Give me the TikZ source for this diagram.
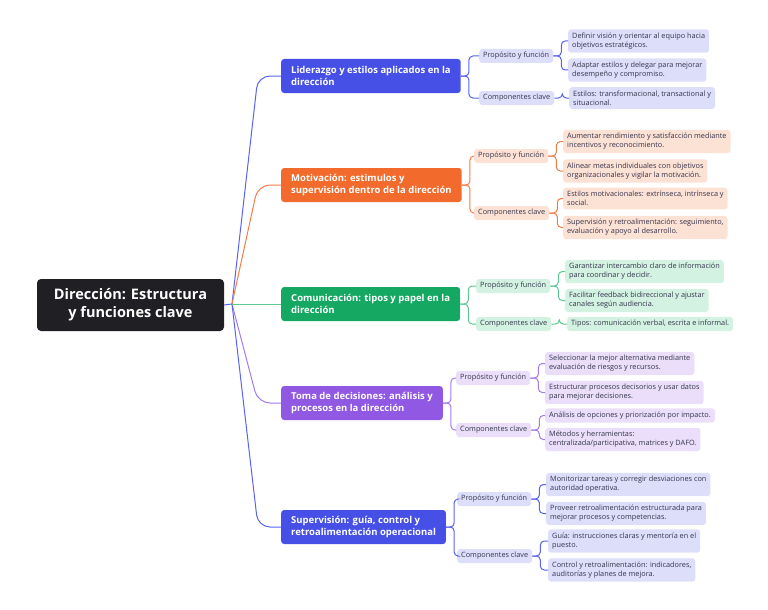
\documentclass[tikz,border=0pt]{standalone}
\usepackage{fontspec}
\setmainfont{Open Sans}
\usetikzlibrary{positioning,calc}
\definecolor{RootDark}{HTML}{1F1F24}
\definecolor{LeafText}{HTML}{33334A}
\definecolor{LidMain}{HTML}{4650E6}
\definecolor{LidLine}{HTML}{5A62F0}
\definecolor{LidSoft}{HTML}{DDDEFA}
\definecolor{MotMain}{HTML}{F26A2C}
\definecolor{MotLine}{HTML}{F47C47}
\definecolor{MotSoft}{HTML}{FCE1D5}
\definecolor{ComMain}{HTML}{15A862}
\definecolor{ComLine}{HTML}{5CC893}
\definecolor{ComSoft}{HTML}{D3F2E2}
\definecolor{TomMain}{HTML}{9058E3}
\definecolor{TomLine}{HTML}{A57AEB}
\definecolor{TomSoft}{HTML}{EADEFA}
\tikzset{every node/.style={inner sep=0pt},
 rootbox/.style={fill=RootDark,text=white,rounded corners=4pt,align=center,
  font=\fontsize{14.5}{18}\selectfont\bfseries,minimum width=187pt,minimum height=52pt},
 branchbox/.style={fill=#1,text=white,rounded corners=3pt,anchor=west,align=left,
  font=\fontsize{9.5}{12.5}\selectfont\bfseries,inner xsep=10pt,minimum height=34pt},
 midbox/.style={fill=#1,text=LeafText,rounded corners=3pt,anchor=west,
  font=\fontsize{7.3}{9}\selectfont,inner xsep=4pt,minimum height=14pt},
 leafbox/.style={fill=#1,text=LeafText,rounded corners=3pt,anchor=west,align=left,
  font=\fontsize{7.3}{9}\selectfont,inner xsep=4pt,inner ysep=3.5pt},
 rootlink/.style={draw=#1,line width=1pt,rounded corners=12pt},
 link/.style={draw=#1,line width=1pt,rounded corners=4pt}}

\begin{document}
\begin{tikzpicture}[x=1pt,y=-1pt]
\useasboundingbox (0,0) rectangle (768,610);
% Root on the left, five branches each split in purpose and key components.
\node[rootbox] (root) at (130.5,305) {Dirección: Estructura\\y funciones clave};
\coordinate (hub) at (232,304);

\node[branchbox=LidMain] (lid) at (281,76) {Liderazgo y estilos aplicados en la\\dirección};
\node[midbox=LidSoft] (lidp) at (479,56) {Propósito y función};
\node[midbox=LidSoft] (lidc) at (479,98) {Componentes clave};
\node[leafbox=LidSoft] (lidpa) at (568,41) {Definir visión y orientar al equipo hacia\\objetivos estratégicos.};
\node[leafbox=LidSoft] (lidpb) at (568,70) {Adaptar estilos y delegar para mejorar\\desempeño y compromiso.};
\node[leafbox=LidSoft] (lidca) at (569,98) {Estilos: transformacional, transactional y\\situacional.};

\node[branchbox=MotMain] (mot) at (281,185) {Motivación: estimulos y\\supervisión dentro de la dirección};
\node[midbox=MotSoft] (motp) at (474,156) {Propósito y función};
\node[midbox=MotSoft] (motc) at (474,213) {Componentes clave};
\node[leafbox=MotSoft] (motpa) at (563,141.5) {Aumentar rendimiento y satisfacción mediante\\incentivos y reconocimiento.};
\node[leafbox=MotSoft] (motpb) at (563,171) {Alinear metas individuales con objetivos\\organizacionales y vigilar la motivación.};
\node[leafbox=MotSoft] (motca) at (563,198.5) {Estilos motivacionales: extrínseca, intrínseca y\\social.};
\node[leafbox=MotSoft] (motcb) at (563,227.5) {Supervisión y retroalimentación: seguimiento,\\evaluación y apoyo al desarrollo.};

\node[branchbox=ComMain] (com) at (281,304) {Comunicación: tipos y papel en la\\dirección};
\node[midbox=ComSoft] (comp) at (476,286) {Propósito y función};
\node[midbox=ComSoft] (comc) at (476,324) {Componentes clave};
\node[leafbox=ComSoft] (compa) at (565,271.5) {Garantizar intercambio claro de información\\para coordinar y decidir.};
\node[leafbox=ComSoft] (compb) at (565,300.5) {Facilitar feedback bidireccional y ajustar\\canales según audiencia.};
\node[leafbox=ComSoft] (comca) at (567,324) {Tipos: comunicación verbal, escrita e informal.};

\node[branchbox=TomMain] (tom) at (281,403) {Toma de decisiones: análisis y\\procesos en la dirección};
\node[midbox=TomSoft] (tomp) at (456,378) {Propósito y función};
\node[midbox=TomSoft] (tomc) at (456,430) {Componentes clave};
\node[leafbox=TomSoft] (tompa) at (545,363.5) {Seleccionar la mejor alternativa mediante\\evaluación de riesgos y recursos.};
\node[leafbox=TomSoft] (tompb) at (545,392.5) {Estructurar procesos decisorios y usar datos\\para mejorar decisiones.};
\node[leafbox=TomSoft] (tomca) at (545,415.5) {Análisis de opciones y priorización por impacto.};
\node[leafbox=TomSoft] (tomcb) at (545,439.5) {Métodos y herramientas:\\centralizada/participativa, matrices y DAFO.};

\node[branchbox=LidMain] (sup) at (281,527) {Supervisión: guía, control y\\retroalimentación operacional};
\node[midbox=LidSoft] (supp) at (457,499) {Propósito y función};
\node[midbox=LidSoft] (supc) at (457,556) {Componentes clave};
\node[leafbox=LidSoft] (suppa) at (546,484.5) {Monitorizar tareas y corregir desviaciones con\\autoridad operativa.};
\node[leafbox=LidSoft] (suppb) at (546,513.5) {Proveer retroalimentación estructurada para\\mejorar procesos y competencias.};
\node[leafbox=LidSoft] (supca) at (548,541) {Guía: instrucciones claras y mentoría en el\\puesto.};
\node[leafbox=LidSoft] (supcb) at (548,570) {Control y retroalimentación: indicadores,\\auditorías y planes de mejora.};

\draw[link=LidLine] (root.east) -- (hub);
\foreach \b/\c in {lid/LidLine,mot/MotLine,tom/TomLine,sup/LidLine}
 \draw[rootlink=\c] (hub) -- ($(\b.west)+(-23,0)$) -- (\b.west);
\draw[link=ComLine] (hub) -- (com.west);

\foreach \b/\c in {lid/LidLine,mot/MotLine,com/ComLine,tom/TomLine,sup/LidLine}{
 \draw[link=\c] (\b.east) -- ++(8,0) |- (\b p.west);
 \draw[link=\c] (\b.east) -- ++(8,0) |- (\b c.west);
 \draw[link=\c] (\b p.east) -- ++(8,0) |- (\b pa.west);
 \draw[link=\c] (\b p.east) -- ++(8,0) |- (\b pb.west);
 \draw[link=\c] (\b c.east) -- ++(8,0) |- (\b ca.west);
}
\foreach \b/\c in {mot/MotLine,tom/TomLine,sup/LidLine}
 \draw[link=\c] (\b c.east) -- ++(8,0) |- (\b cb.west);
\end{tikzpicture}
\end{document}
